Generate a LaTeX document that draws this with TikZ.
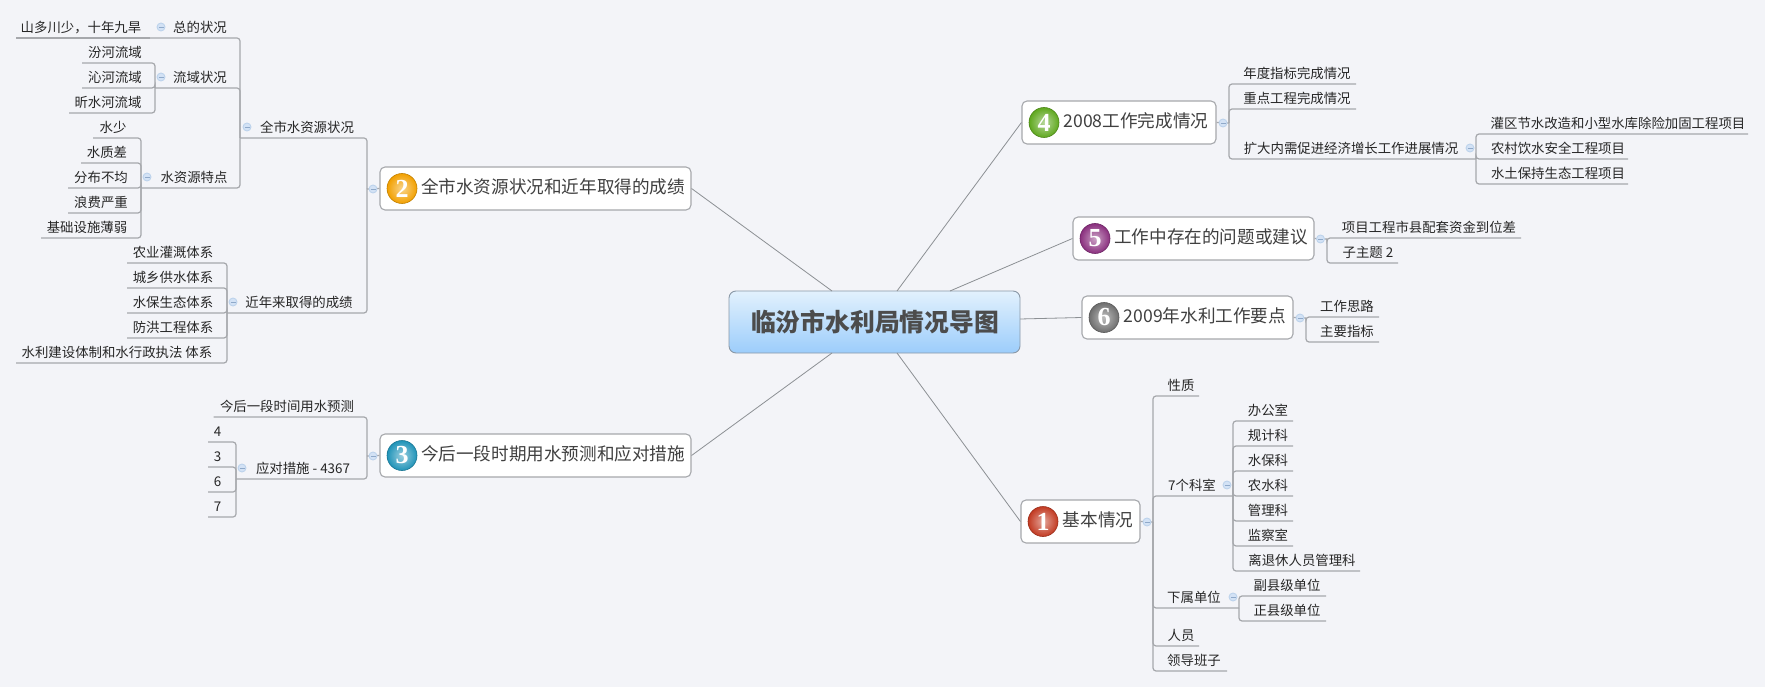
\documentclass[tikz,border=0pt]{standalone}
\usepackage{fontspec}
\setmainfont{Noto Sans CJK SC}
\newfontfamily\digitfont{Liberation Serif}
\definecolor{bgc}{HTML}{F3F4F8}
\definecolor{linec}{HTML}{A6A8AC}
\definecolor{spoke}{HTML}{8C9094}
\definecolor{roottop}{HTML}{E2F1FD}
\definecolor{rootbot}{HTML}{9CCDFB}
\definecolor{rootedge}{HTML}{8A98A6}
\definecolor{foldfill}{HTML}{D3E2F5}
\definecolor{foldedge}{HTML}{BDD3EC}
\definecolor{foldminus}{HTML}{8FA9C9}
\tikzset{
  x=1pt,y=-1pt,
  tx/.style={font=\fontsize{13.4}{14}\selectfont,text=black!85,inner sep=0pt,text height=.88em,text depth=.12em},
  conn/.style={draw=linec,line width=1.2pt,rounded corners=3pt},
  spokeline/.style={draw=spoke,line width=.8pt},
  mainbox/.style={draw=linec,line width=1.1pt,fill=white,rounded corners=5pt,inner sep=0pt},
  maintx/.style={font=\fontsize{17.6}{19}\selectfont,text=black!75,inner sep=0pt,text height=.88em,text depth=.12em},
  rootbox/.style={draw=rootedge,line width=.9pt,rounded corners=7pt,top color=roottop,bottom color=rootbot,inner sep=0pt},
  roottx/.style={font=\fontsize{24.8}{26}\selectfont\bfseries,text=black!70,inner sep=0pt},
  ball/.style={circle,minimum size=30pt,inner sep=0pt,line width=.6pt,font=\digitfont\fontsize{26}{26}\selectfont\bfseries,text=white},
  fold/.style={circle,minimum size=8pt,inner sep=0pt,draw=foldedge,fill=foldfill,line width=.9pt},
  foldbar/.style={draw=foldminus,line width=.7pt}
}
% topic: name, far end x, line y, text centre x, text, parent
\newcommand\tp[6]{%
  \coordinate (#1-e) at (#2,#3);
  \draw[conn] (#6-e) |- (#1-e);
  \node[tx] (#1) at (#4,#3-9.7) {#5};
}
% fold mark: name, x, y
\newcommand\fm[3]{%
  \node[fold] (#1-f) at (#2,#3) {};
  \draw[foldbar] ($(#1-f)+(-2.5,0)$) -- ($(#1-f)+(2.5,0)$);
}
% main box: name, x1, x2, y1, y2, icon x, text x, digit, inner colour, outer colour, text
\newcommand\mb[9]{%
  \node[mainbox,minimum width={(#3-#2)*1pt},minimum height={(#5-#4)*1pt}] (#1) at ({(#2+#3)/2},{(#4+#5)/2}) {};
  \node[ball,shade,inner color=#8!45!white,outer color=#8,draw=#8!80!black] (#1-i) at (#6,{(#4+#5)/2}) {#9};
  \def\lastmain{#1}%
  \mbtext{#7}{#4}{#5}%
}
\newcommand\mbtext[4]{\node[maintx] (\lastmain-t) at (#1,{(#2+#3)/2+1.5}) {#4};}
\usetikzlibrary{calc}
\definecolor{cred}{HTML}{C23A22}
\definecolor{corange}{HTML}{F2A000}
\definecolor{cblue}{HTML}{1F93B8}
\definecolor{cgreen}{HTML}{5FA81E}
\definecolor{cpurple}{HTML}{8A2F7E}
\definecolor{cgray}{HTML}{6E6E6E}
\begin{document}
\begin{tikzpicture}
\useasboundingbox (0,0) rectangle (1765,687);
\fill[bgc] (0,0) rectangle (1765,687);

% root
\node[rootbox,minimum width=291pt,minimum height=62pt] (root) at (874.5,322) {};
\node[roottx] (roottext) at (875,322) {临汾市水利局情况导图};

% anchors of spokes on the root
\coordinate (s2) at (832,291);
\coordinate (s3) at (832,353);
\coordinate (s4) at (897,291);
\coordinate (s5) at (950,291);
\coordinate (s6) at (1020,319);
\coordinate (s1) at (897,353);

% bracket origins
\coordinate (m2-e) at (367,189);
\coordinate (m3-e) at (367,456);
\coordinate (m4-e) at (1229,123);
\coordinate (m5-e) at (1327,239);
\coordinate (m6-e) at (1306,318);
\coordinate (m1-e) at (1153,522);

% ---- left: 2
\tp{a}{240}{138}{307}{全市水资源状况}{m2}
\tp{b}{227}{313}{299}{近年来取得的成绩}{m2}
\tp{a1}{150}{38}{200}{总的状况}{a}
\coordinate (a1x-e) at (150,38);
\draw[conn] (a1x-e) -- (16,38) coordinate (a11-e);
\node[tx] (a11) at (81,28.3) {山多川少，十年九旱};
\tp{a2}{155}{88}{200}{流域状况}{a}
\tp{a3}{141}{188}{194}{水资源特点}{a}
\tp{a21}{82}{63}{115}{汾河流域}{a2}
\tp{a22}{82}{88}{115}{沁河流域}{a2}
\tp{a23}{69}{113}{108}{昕水河流域}{a2}
\tp{a31}{93}{138}{113}{水少}{a3}
\tp{a32}{81}{163}{107}{水质差}{a3}
\tp{a33}{68}{188}{101}{分布不均}{a3}
\tp{a34}{68}{213}{101}{浪费严重}{a3}
\tp{a35}{41}{238}{87}{基础设施薄弱}{a3}
\coordinate (b0-e) at (227,313);
\draw[conn] (b-e) -- (b0-e);
\tp{b1}{127}{263}{173}{农业灌溉体系}{b0}
\tp{b2}{127}{288}{173}{城乡供水体系}{b0}
\tp{b3}{127}{313}{173}{水保生态体系}{b0}
\tp{b4}{127}{338}{173}{防洪工程体系}{b0}
\tp{b5}{16}{363}{117}{水利建设体制和水行政执法 体系}{b0}

% ---- left: 3
\tp{c}{213.5}{417}{287}{今后一段时间用水预测}{m3}
\tp{d}{236}{479}{303}{应对措施 - 4367}{m3}
\tp{d1}{208}{442}{217.6}{4}{d}
\tp{d2}{208}{467}{217.6}{3}{d}
\tp{d3}{208}{492}{217.6}{6}{d}
\tp{d4}{208}{517}{217.6}{7}{d}

% ---- right: 4
\tp{e}{1356}{84}{1297}{年度指标完成情况}{m4}
\tp{f}{1356}{109}{1297}{重点工程完成情况}{m4}
\tp{g}{1476}{159}{1351}{扩大内需促进经济增长工作进展情况}{m4}
\tp{g1}{1748}{134}{1618}{灌区节水改造和小型水库除险加固工程项目}{g}
\tp{g2}{1628}{159}{1558}{农村饮水安全工程项目}{g}
\tp{g3}{1628}{184}{1558}{水土保持生态工程项目}{g}

% ---- right: 5
\tp{h}{1521}{238}{1429}{项目工程市县配套资金到位差}{m5}
\tp{i}{1398}{263}{1368}{子主题 2}{m5}

% ---- right: 6
\tp{j}{1379}{317}{1347}{工作思路}{m6}
\tp{k}{1379}{342}{1347}{主要指标}{m6}

% ---- right: 1
\tp{l}{1199}{396}{1181}{性质}{m1}
\tp{n}{1233}{496}{1192}{7个科室}{m1}
\tp{o}{1239}{608}{1194}{下属单位}{m1}
\tp{p}{1199}{646}{1181}{人员}{m1}
\tp{q}{1227}{671}{1194}{领导班子}{m1}
\tp{n1}{1293}{421}{1268}{办公室}{n}
\tp{n2}{1293}{446}{1268}{规计科}{n}
\tp{n3}{1293}{471}{1268}{水保科}{n}
\tp{n4}{1293}{496}{1268}{农水科}{n}
\tp{n5}{1293}{521}{1268}{管理科}{n}
\tp{n6}{1293}{546}{1268}{监察室}{n}
\tp{n7}{1360}{571}{1302}{离退休人员管理科}{n}
\tp{o1}{1326}{596}{1287}{副县级单位}{o}
\tp{o2}{1326}{621}{1287}{正县级单位}{o}

% main topics
\mb{m2}{380}{691}{167}{210}{402}{553}{corange}{2}{全市水资源状况和近年取得的成绩}
\mb{m3}{380}{691}{434}{477}{402}{553}{cblue}{3}{今后一段时期用水预测和应对措施}
\mb{m4}{1022}{1216}{101}{144}{1044}{1136}{cgreen}{4}{2008工作完成情况}
\mb{m5}{1073}{1314}{217}{260}{1095}{1211}{cpurple}{5}{工作中存在的问题或建议}
\mb{m6}{1082}{1293}{296}{339}{1104}{1205}{cgray}{6}{2009年水利工作要点}
\mb{m1}{1021}{1140}{500}{543}{1043}{1098}{cred}{1}{基本情况}

% stubs from main topics to brackets
\draw[conn] (m2.west) -- (m2-e);
\draw[conn] (m3.west) -- (m3-e);
\draw[conn] (m4.east) -- (m4-e);
\draw[conn] (m5.east) -- (m5-e);
\draw[conn] (m6.east) -- (m6-e);
\draw[conn] (m1.east) -- (m1-e);

% spokes
\draw[spokeline] (s2) -- (m2.east);
\draw[spokeline] (s3) -- (m3.east);
\draw[spokeline] (s4) -- (m4.west);
\draw[spokeline] (s5) -- (m5.west);
\draw[spokeline] (s6) -- (m6.west);
\draw[spokeline] (s1) -- (m1.west);

% fold marks
\fm{m2}{373}{189}
\fm{m3}{373}{456}
\fm{m4}{1223}{123}
\fm{m5}{1320.5}{239}
\fm{m6}{1300}{318}
\fm{m1}{1147}{522}
\fm{a}{247}{127}
\fm{b}{233}{302}
\fm{a1}{161}{27}
\fm{a2}{161}{77}
\fm{a3}{147}{177}
\fm{d}{242}{468}
\fm{g}{1470}{148}
\fm{n}{1227}{485}
\fm{o}{1233}{597}
\end{tikzpicture}
\end{document}
